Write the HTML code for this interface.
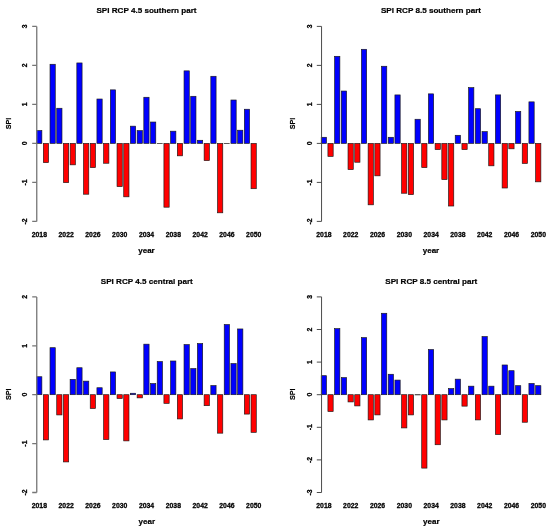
<!DOCTYPE html>
<html><head><meta charset="utf-8"><title>SPI</title>
<style>html,body{margin:0;padding:0;background:#fff}svg{display:block}text{font-family:"Liberation Sans",Arial,sans-serif;font-weight:bold;fill:#000;stroke:#000;stroke-width:0.2px;paint-order:stroke}text.t{stroke-width:0.3px}</style></head><body>
<svg width="550" height="529" viewBox="0 0 550 529">
<rect width="550" height="529" fill="#fff"/>
<g>
<rect x="36.62" y="130.57" width="5.25" height="12.83" fill="#0000ff" stroke="#181818" stroke-width="0.65"/>
<rect x="43.33" y="143.40" width="5.25" height="19.22" fill="#ff0000" stroke="#181818" stroke-width="0.65"/>
<rect x="50.02" y="64.27" width="5.25" height="79.13" fill="#0000ff" stroke="#181818" stroke-width="0.65"/>
<rect x="56.73" y="108.26" width="5.25" height="35.14" fill="#0000ff" stroke="#181818" stroke-width="0.65"/>
<rect x="63.43" y="143.40" width="5.25" height="39.22" fill="#ff0000" stroke="#181818" stroke-width="0.65"/>
<rect x="70.13" y="143.40" width="5.25" height="21.44" fill="#ff0000" stroke="#181818" stroke-width="0.65"/>
<rect x="76.83" y="62.95" width="5.25" height="80.45" fill="#0000ff" stroke="#181818" stroke-width="0.65"/>
<rect x="83.53" y="143.40" width="5.25" height="50.81" fill="#ff0000" stroke="#181818" stroke-width="0.65"/>
<rect x="90.23" y="143.40" width="5.25" height="24.21" fill="#ff0000" stroke="#181818" stroke-width="0.65"/>
<rect x="96.93" y="99.02" width="5.25" height="44.38" fill="#0000ff" stroke="#181818" stroke-width="0.65"/>
<rect x="103.63" y="143.40" width="5.25" height="19.84" fill="#ff0000" stroke="#181818" stroke-width="0.65"/>
<rect x="110.33" y="89.86" width="5.25" height="53.54" fill="#0000ff" stroke="#181818" stroke-width="0.65"/>
<rect x="117.03" y="143.40" width="5.25" height="43.24" fill="#ff0000" stroke="#181818" stroke-width="0.65"/>
<rect x="123.73" y="143.40" width="5.25" height="53.42" fill="#ff0000" stroke="#181818" stroke-width="0.65"/>
<rect x="130.42" y="126.16" width="5.25" height="17.24" fill="#0000ff" stroke="#181818" stroke-width="0.65"/>
<rect x="137.12" y="130.65" width="5.25" height="12.75" fill="#0000ff" stroke="#181818" stroke-width="0.65"/>
<rect x="143.82" y="97.27" width="5.25" height="46.13" fill="#0000ff" stroke="#181818" stroke-width="0.65"/>
<rect x="150.53" y="122.03" width="5.25" height="21.37" fill="#0000ff" stroke="#181818" stroke-width="0.65"/>
<rect x="157.22" y="143.40" width="5.25" height="0.19" fill="#601010" stroke="#181818" stroke-width="0.65"/>
<rect x="163.92" y="143.40" width="5.25" height="63.79" fill="#ff0000" stroke="#181818" stroke-width="0.65"/>
<rect x="170.62" y="131.19" width="5.25" height="12.21" fill="#0000ff" stroke="#181818" stroke-width="0.65"/>
<rect x="177.33" y="143.40" width="5.25" height="12.43" fill="#ff0000" stroke="#181818" stroke-width="0.65"/>
<rect x="184.03" y="70.86" width="5.25" height="72.54" fill="#0000ff" stroke="#181818" stroke-width="0.65"/>
<rect x="190.72" y="96.29" width="5.25" height="47.11" fill="#0000ff" stroke="#181818" stroke-width="0.65"/>
<rect x="197.43" y="140.28" width="5.25" height="3.12" fill="#0000ff" stroke="#181818" stroke-width="0.65"/>
<rect x="204.12" y="143.40" width="5.25" height="17.23" fill="#ff0000" stroke="#181818" stroke-width="0.65"/>
<rect x="210.83" y="76.28" width="5.25" height="67.12" fill="#0000ff" stroke="#181818" stroke-width="0.65"/>
<rect x="217.53" y="143.40" width="5.25" height="69.41" fill="#ff0000" stroke="#181818" stroke-width="0.65"/>
<rect x="224.22" y="143.40" width="5.25" height="0.19" fill="#601010" stroke="#181818" stroke-width="0.65"/>
<rect x="230.93" y="100.00" width="5.25" height="43.41" fill="#0000ff" stroke="#181818" stroke-width="0.65"/>
<rect x="237.62" y="130.22" width="5.25" height="13.18" fill="#0000ff" stroke="#181818" stroke-width="0.65"/>
<rect x="244.33" y="109.24" width="5.25" height="34.16" fill="#0000ff" stroke="#181818" stroke-width="0.65"/>
<rect x="251.03" y="143.40" width="5.25" height="45.31" fill="#ff0000" stroke="#181818" stroke-width="0.65"/>
<path d="M36.75 26.40V221.40" stroke="#767676" stroke-width="1.3" fill="none"/>
<path d="M32.20 221.40H36.75M32.20 182.40H36.75M32.20 143.40H36.75M32.20 104.40H36.75M32.20 65.40H36.75M32.20 26.40H36.75" stroke="#767676" stroke-width="1.3" fill="none"/>
<text transform="translate(27.00 221.40) rotate(-90) scale(0.86 1)" text-anchor="middle" font-size="8.0" class="t">-2</text>
<text transform="translate(27.00 182.40) rotate(-90) scale(0.86 1)" text-anchor="middle" font-size="8.0" class="t">-1</text>
<text transform="translate(27.00 143.40) rotate(-90) scale(0.86 1)" text-anchor="middle" font-size="8.0" class="t">0</text>
<text transform="translate(27.00 104.40) rotate(-90) scale(0.86 1)" text-anchor="middle" font-size="8.0" class="t">1</text>
<text transform="translate(27.00 65.40) rotate(-90) scale(0.86 1)" text-anchor="middle" font-size="8.0" class="t">2</text>
<text transform="translate(27.00 26.40) rotate(-90) scale(0.86 1)" text-anchor="middle" font-size="8.0" class="t">3</text>
<text transform="translate(39.35 236.80) scale(0.86 1)" text-anchor="middle" font-size="8.0" class="t">2018</text>
<text transform="translate(66.15 236.80) scale(0.86 1)" text-anchor="middle" font-size="8.0" class="t">2022</text>
<text transform="translate(92.95 236.80) scale(0.86 1)" text-anchor="middle" font-size="8.0" class="t">2026</text>
<text transform="translate(119.75 236.80) scale(0.86 1)" text-anchor="middle" font-size="8.0" class="t">2030</text>
<text transform="translate(146.55 236.80) scale(0.86 1)" text-anchor="middle" font-size="8.0" class="t">2034</text>
<text transform="translate(173.35 236.80) scale(0.86 1)" text-anchor="middle" font-size="8.0" class="t">2038</text>
<text transform="translate(200.15 236.80) scale(0.86 1)" text-anchor="middle" font-size="8.0" class="t">2042</text>
<text transform="translate(226.95 236.80) scale(0.86 1)" text-anchor="middle" font-size="8.0" class="t">2046</text>
<text transform="translate(253.75 236.80) scale(0.86 1)" text-anchor="middle" font-size="8.0" class="t">2050</text>
<text x="146.50" y="252.80" text-anchor="middle" font-size="8.0">year</text>
<text transform="translate(10.60 123.50) rotate(-90) scale(0.91 1)" text-anchor="middle" font-size="7.9">SPI</text>
<text x="146.50" y="13.20" text-anchor="middle" font-size="8.1">SPI RCP 4.5 southern part</text>
</g>
<g>
<rect x="321.22" y="137.28" width="5.25" height="6.12" fill="#0000ff" stroke="#181818" stroke-width="0.65"/>
<rect x="327.92" y="143.40" width="5.25" height="13.02" fill="#ff0000" stroke="#181818" stroke-width="0.65"/>
<rect x="334.62" y="56.31" width="5.25" height="87.09" fill="#0000ff" stroke="#181818" stroke-width="0.65"/>
<rect x="341.32" y="91.03" width="5.25" height="52.38" fill="#0000ff" stroke="#181818" stroke-width="0.65"/>
<rect x="348.02" y="143.40" width="5.25" height="26.24" fill="#ff0000" stroke="#181818" stroke-width="0.65"/>
<rect x="354.72" y="143.40" width="5.25" height="18.83" fill="#ff0000" stroke="#181818" stroke-width="0.65"/>
<rect x="361.42" y="49.30" width="5.25" height="94.10" fill="#0000ff" stroke="#181818" stroke-width="0.65"/>
<rect x="368.12" y="143.40" width="5.25" height="61.42" fill="#ff0000" stroke="#181818" stroke-width="0.65"/>
<rect x="374.82" y="143.40" width="5.25" height="32.44" fill="#ff0000" stroke="#181818" stroke-width="0.65"/>
<rect x="381.52" y="66.26" width="5.25" height="77.14" fill="#0000ff" stroke="#181818" stroke-width="0.65"/>
<rect x="388.22" y="137.28" width="5.25" height="6.12" fill="#0000ff" stroke="#181818" stroke-width="0.65"/>
<rect x="394.92" y="94.93" width="5.25" height="48.47" fill="#0000ff" stroke="#181818" stroke-width="0.65"/>
<rect x="401.62" y="143.40" width="5.25" height="49.83" fill="#ff0000" stroke="#181818" stroke-width="0.65"/>
<rect x="408.32" y="143.40" width="5.25" height="51.24" fill="#ff0000" stroke="#181818" stroke-width="0.65"/>
<rect x="415.02" y="119.26" width="5.25" height="24.14" fill="#0000ff" stroke="#181818" stroke-width="0.65"/>
<rect x="421.72" y="143.40" width="5.25" height="24.21" fill="#ff0000" stroke="#181818" stroke-width="0.65"/>
<rect x="428.42" y="93.87" width="5.25" height="49.53" fill="#0000ff" stroke="#181818" stroke-width="0.65"/>
<rect x="435.12" y="143.40" width="5.25" height="6.23" fill="#ff0000" stroke="#181818" stroke-width="0.65"/>
<rect x="441.82" y="143.40" width="5.25" height="36.22" fill="#ff0000" stroke="#181818" stroke-width="0.65"/>
<rect x="448.52" y="143.40" width="5.25" height="62.62" fill="#ff0000" stroke="#181818" stroke-width="0.65"/>
<rect x="455.22" y="135.29" width="5.25" height="8.11" fill="#0000ff" stroke="#181818" stroke-width="0.65"/>
<rect x="461.93" y="143.40" width="5.25" height="6.23" fill="#ff0000" stroke="#181818" stroke-width="0.65"/>
<rect x="468.62" y="87.67" width="5.25" height="55.73" fill="#0000ff" stroke="#181818" stroke-width="0.65"/>
<rect x="475.32" y="108.69" width="5.25" height="34.71" fill="#0000ff" stroke="#181818" stroke-width="0.65"/>
<rect x="482.02" y="131.66" width="5.25" height="11.74" fill="#0000ff" stroke="#181818" stroke-width="0.65"/>
<rect x="488.72" y="143.40" width="5.25" height="22.42" fill="#ff0000" stroke="#181818" stroke-width="0.65"/>
<rect x="495.43" y="94.89" width="5.25" height="48.51" fill="#0000ff" stroke="#181818" stroke-width="0.65"/>
<rect x="502.12" y="143.40" width="5.25" height="44.61" fill="#ff0000" stroke="#181818" stroke-width="0.65"/>
<rect x="508.82" y="143.40" width="5.25" height="5.41" fill="#ff0000" stroke="#181818" stroke-width="0.65"/>
<rect x="515.52" y="111.50" width="5.25" height="31.90" fill="#0000ff" stroke="#181818" stroke-width="0.65"/>
<rect x="522.23" y="143.40" width="5.25" height="20.04" fill="#ff0000" stroke="#181818" stroke-width="0.65"/>
<rect x="528.93" y="101.87" width="5.25" height="41.53" fill="#0000ff" stroke="#181818" stroke-width="0.65"/>
<rect x="535.62" y="143.40" width="5.25" height="38.44" fill="#ff0000" stroke="#181818" stroke-width="0.65"/>
<path d="M321.55 26.40V221.40" stroke="#4c4c4c" stroke-width="1.0" fill="none"/>
<path d="M316.80 221.40H321.55M316.80 182.40H321.55M316.80 143.40H321.55M316.80 104.40H321.55M316.80 65.40H321.55M316.80 26.40H321.55" stroke="#4c4c4c" stroke-width="1.0" fill="none"/>
<text transform="translate(311.60 221.40) rotate(-90) scale(0.86 1)" text-anchor="middle" font-size="8.0" class="t">-2</text>
<text transform="translate(311.60 182.40) rotate(-90) scale(0.86 1)" text-anchor="middle" font-size="8.0" class="t">-1</text>
<text transform="translate(311.60 143.40) rotate(-90) scale(0.86 1)" text-anchor="middle" font-size="8.0" class="t">0</text>
<text transform="translate(311.60 104.40) rotate(-90) scale(0.86 1)" text-anchor="middle" font-size="8.0" class="t">1</text>
<text transform="translate(311.60 65.40) rotate(-90) scale(0.86 1)" text-anchor="middle" font-size="8.0" class="t">2</text>
<text transform="translate(311.60 26.40) rotate(-90) scale(0.86 1)" text-anchor="middle" font-size="8.0" class="t">3</text>
<text transform="translate(323.95 236.80) scale(0.86 1)" text-anchor="middle" font-size="8.0" class="t">2018</text>
<text transform="translate(350.75 236.80) scale(0.86 1)" text-anchor="middle" font-size="8.0" class="t">2022</text>
<text transform="translate(377.55 236.80) scale(0.86 1)" text-anchor="middle" font-size="8.0" class="t">2026</text>
<text transform="translate(404.35 236.80) scale(0.86 1)" text-anchor="middle" font-size="8.0" class="t">2030</text>
<text transform="translate(431.15 236.80) scale(0.86 1)" text-anchor="middle" font-size="8.0" class="t">2034</text>
<text transform="translate(457.95 236.80) scale(0.86 1)" text-anchor="middle" font-size="8.0" class="t">2038</text>
<text transform="translate(484.75 236.80) scale(0.86 1)" text-anchor="middle" font-size="8.0" class="t">2042</text>
<text transform="translate(511.55 236.80) scale(0.86 1)" text-anchor="middle" font-size="8.0" class="t">2046</text>
<text transform="translate(538.35 236.80) scale(0.86 1)" text-anchor="middle" font-size="8.0" class="t">2050</text>
<text x="431.00" y="252.80" text-anchor="middle" font-size="8.0">year</text>
<text transform="translate(295.20 123.50) rotate(-90) scale(0.91 1)" text-anchor="middle" font-size="7.9">SPI</text>
<text x="431.00" y="13.20" text-anchor="middle" font-size="8.1">SPI RCP 8.5 southern part</text>
</g>
<g>
<rect x="36.62" y="376.74" width="5.25" height="17.96" fill="#0000ff" stroke="#181818" stroke-width="0.65"/>
<rect x="43.33" y="394.70" width="5.25" height="45.21" fill="#ff0000" stroke="#181818" stroke-width="0.65"/>
<rect x="50.02" y="347.69" width="5.25" height="47.01" fill="#0000ff" stroke="#181818" stroke-width="0.65"/>
<rect x="56.73" y="394.70" width="5.25" height="20.23" fill="#ff0000" stroke="#181818" stroke-width="0.65"/>
<rect x="63.43" y="394.70" width="5.25" height="67.22" fill="#ff0000" stroke="#181818" stroke-width="0.65"/>
<rect x="70.13" y="379.33" width="5.25" height="15.37" fill="#0000ff" stroke="#181818" stroke-width="0.65"/>
<rect x="76.83" y="367.74" width="5.25" height="26.96" fill="#0000ff" stroke="#181818" stroke-width="0.65"/>
<rect x="83.53" y="381.14" width="5.25" height="13.56" fill="#0000ff" stroke="#181818" stroke-width="0.65"/>
<rect x="90.23" y="394.70" width="5.25" height="13.82" fill="#ff0000" stroke="#181818" stroke-width="0.65"/>
<rect x="96.93" y="387.74" width="5.25" height="6.96" fill="#0000ff" stroke="#181818" stroke-width="0.65"/>
<rect x="103.63" y="394.70" width="5.25" height="44.82" fill="#ff0000" stroke="#181818" stroke-width="0.65"/>
<rect x="110.33" y="371.94" width="5.25" height="22.76" fill="#0000ff" stroke="#181818" stroke-width="0.65"/>
<rect x="117.03" y="394.70" width="5.25" height="3.84" fill="#ff0000" stroke="#181818" stroke-width="0.65"/>
<rect x="123.73" y="394.70" width="5.25" height="46.19" fill="#ff0000" stroke="#181818" stroke-width="0.65"/>
<rect x="130.42" y="393.26" width="5.25" height="1.44" fill="#0000ff" stroke="#181818" stroke-width="0.65"/>
<rect x="137.12" y="394.70" width="5.25" height="3.16" fill="#ff0000" stroke="#181818" stroke-width="0.65"/>
<rect x="143.82" y="344.17" width="5.25" height="50.53" fill="#0000ff" stroke="#181818" stroke-width="0.65"/>
<rect x="150.53" y="383.58" width="5.25" height="11.12" fill="#0000ff" stroke="#181818" stroke-width="0.65"/>
<rect x="157.22" y="361.58" width="5.25" height="33.12" fill="#0000ff" stroke="#181818" stroke-width="0.65"/>
<rect x="163.92" y="394.70" width="5.25" height="8.64" fill="#ff0000" stroke="#181818" stroke-width="0.65"/>
<rect x="170.62" y="360.99" width="5.25" height="33.71" fill="#0000ff" stroke="#181818" stroke-width="0.65"/>
<rect x="177.33" y="394.70" width="5.25" height="24.23" fill="#ff0000" stroke="#181818" stroke-width="0.65"/>
<rect x="184.03" y="344.61" width="5.25" height="50.09" fill="#0000ff" stroke="#181818" stroke-width="0.65"/>
<rect x="190.72" y="368.57" width="5.25" height="26.13" fill="#0000ff" stroke="#181818" stroke-width="0.65"/>
<rect x="197.43" y="343.58" width="5.25" height="51.12" fill="#0000ff" stroke="#181818" stroke-width="0.65"/>
<rect x="204.12" y="394.70" width="5.25" height="10.98" fill="#ff0000" stroke="#181818" stroke-width="0.65"/>
<rect x="210.83" y="385.59" width="5.25" height="9.11" fill="#0000ff" stroke="#181818" stroke-width="0.65"/>
<rect x="217.53" y="394.70" width="5.25" height="38.46" fill="#ff0000" stroke="#181818" stroke-width="0.65"/>
<rect x="224.22" y="324.56" width="5.25" height="70.14" fill="#0000ff" stroke="#181818" stroke-width="0.65"/>
<rect x="230.93" y="363.58" width="5.25" height="31.12" fill="#0000ff" stroke="#181818" stroke-width="0.65"/>
<rect x="237.62" y="328.96" width="5.25" height="65.74" fill="#0000ff" stroke="#181818" stroke-width="0.65"/>
<rect x="244.33" y="394.70" width="5.25" height="19.39" fill="#ff0000" stroke="#181818" stroke-width="0.65"/>
<rect x="251.03" y="394.70" width="5.25" height="37.63" fill="#ff0000" stroke="#181818" stroke-width="0.65"/>
<path d="M36.75 296.90V492.50" stroke="#767676" stroke-width="1.3" fill="none"/>
<path d="M32.20 492.50H36.75M32.20 443.60H36.75M32.20 394.70H36.75M32.20 345.80H36.75M32.20 296.90H36.75" stroke="#767676" stroke-width="1.3" fill="none"/>
<text transform="translate(27.00 492.50) rotate(-90) scale(0.86 1)" text-anchor="middle" font-size="8.0" class="t">-2</text>
<text transform="translate(27.00 443.60) rotate(-90) scale(0.86 1)" text-anchor="middle" font-size="8.0" class="t">-1</text>
<text transform="translate(27.00 394.70) rotate(-90) scale(0.86 1)" text-anchor="middle" font-size="8.0" class="t">0</text>
<text transform="translate(27.00 345.80) rotate(-90) scale(0.86 1)" text-anchor="middle" font-size="8.0" class="t">1</text>
<text transform="translate(27.00 296.90) rotate(-90) scale(0.86 1)" text-anchor="middle" font-size="8.0" class="t">2</text>
<text transform="translate(39.35 507.90) scale(0.86 1)" text-anchor="middle" font-size="8.0" class="t">2018</text>
<text transform="translate(66.15 507.90) scale(0.86 1)" text-anchor="middle" font-size="8.0" class="t">2022</text>
<text transform="translate(92.95 507.90) scale(0.86 1)" text-anchor="middle" font-size="8.0" class="t">2026</text>
<text transform="translate(119.75 507.90) scale(0.86 1)" text-anchor="middle" font-size="8.0" class="t">2030</text>
<text transform="translate(146.55 507.90) scale(0.86 1)" text-anchor="middle" font-size="8.0" class="t">2034</text>
<text transform="translate(173.35 507.90) scale(0.86 1)" text-anchor="middle" font-size="8.0" class="t">2038</text>
<text transform="translate(200.15 507.90) scale(0.86 1)" text-anchor="middle" font-size="8.0" class="t">2042</text>
<text transform="translate(226.95 507.90) scale(0.86 1)" text-anchor="middle" font-size="8.0" class="t">2046</text>
<text transform="translate(253.75 507.90) scale(0.86 1)" text-anchor="middle" font-size="8.0" class="t">2050</text>
<text x="146.80" y="523.90" text-anchor="middle" font-size="8.0">year</text>
<text transform="translate(10.60 394.30) rotate(-90) scale(0.91 1)" text-anchor="middle" font-size="7.9">SPI</text>
<text x="146.80" y="283.60" text-anchor="middle" font-size="8.1">SPI RCP 4.5 central part</text>
</g>
<g>
<rect x="321.22" y="375.68" width="5.25" height="19.02" fill="#0000ff" stroke="#181818" stroke-width="0.65"/>
<rect x="327.92" y="394.70" width="5.25" height="16.82" fill="#ff0000" stroke="#181818" stroke-width="0.65"/>
<rect x="334.62" y="328.67" width="5.25" height="66.03" fill="#0000ff" stroke="#181818" stroke-width="0.65"/>
<rect x="341.32" y="377.66" width="5.25" height="17.04" fill="#0000ff" stroke="#181818" stroke-width="0.65"/>
<rect x="348.02" y="394.70" width="5.25" height="7.23" fill="#ff0000" stroke="#181818" stroke-width="0.65"/>
<rect x="354.72" y="394.70" width="5.25" height="11.21" fill="#ff0000" stroke="#181818" stroke-width="0.65"/>
<rect x="361.42" y="337.66" width="5.25" height="57.04" fill="#0000ff" stroke="#181818" stroke-width="0.65"/>
<rect x="368.12" y="394.70" width="5.25" height="25.23" fill="#ff0000" stroke="#181818" stroke-width="0.65"/>
<rect x="374.82" y="394.70" width="5.25" height="20.21" fill="#ff0000" stroke="#181818" stroke-width="0.65"/>
<rect x="381.52" y="313.28" width="5.25" height="81.42" fill="#0000ff" stroke="#181818" stroke-width="0.65"/>
<rect x="388.22" y="374.27" width="5.25" height="20.43" fill="#0000ff" stroke="#181818" stroke-width="0.65"/>
<rect x="394.92" y="380.08" width="5.25" height="14.62" fill="#0000ff" stroke="#181818" stroke-width="0.65"/>
<rect x="401.62" y="394.70" width="5.25" height="33.22" fill="#ff0000" stroke="#181818" stroke-width="0.65"/>
<rect x="408.32" y="394.70" width="5.25" height="20.21" fill="#ff0000" stroke="#181818" stroke-width="0.65"/>
<rect x="415.02" y="394.70" width="5.25" height="0.21" fill="#601010" stroke="#181818" stroke-width="0.65"/>
<rect x="421.72" y="394.70" width="5.25" height="73.41" fill="#ff0000" stroke="#181818" stroke-width="0.65"/>
<rect x="428.42" y="349.56" width="5.25" height="45.14" fill="#0000ff" stroke="#181818" stroke-width="0.65"/>
<rect x="435.12" y="394.70" width="5.25" height="50.04" fill="#ff0000" stroke="#181818" stroke-width="0.65"/>
<rect x="441.82" y="394.70" width="5.25" height="25.23" fill="#ff0000" stroke="#181818" stroke-width="0.65"/>
<rect x="448.52" y="388.59" width="5.25" height="6.11" fill="#0000ff" stroke="#181818" stroke-width="0.65"/>
<rect x="455.22" y="379.16" width="5.25" height="15.54" fill="#0000ff" stroke="#181818" stroke-width="0.65"/>
<rect x="461.93" y="394.70" width="5.25" height="11.44" fill="#ff0000" stroke="#181818" stroke-width="0.65"/>
<rect x="468.62" y="386.17" width="5.25" height="8.53" fill="#0000ff" stroke="#181818" stroke-width="0.65"/>
<rect x="475.32" y="394.70" width="5.25" height="25.23" fill="#ff0000" stroke="#181818" stroke-width="0.65"/>
<rect x="482.02" y="336.59" width="5.25" height="58.11" fill="#0000ff" stroke="#181818" stroke-width="0.65"/>
<rect x="488.72" y="386.17" width="5.25" height="8.53" fill="#0000ff" stroke="#181818" stroke-width="0.65"/>
<rect x="495.43" y="394.70" width="5.25" height="39.83" fill="#ff0000" stroke="#181818" stroke-width="0.65"/>
<rect x="502.12" y="364.98" width="5.25" height="29.72" fill="#0000ff" stroke="#181818" stroke-width="0.65"/>
<rect x="508.82" y="370.69" width="5.25" height="24.01" fill="#0000ff" stroke="#181818" stroke-width="0.65"/>
<rect x="515.52" y="385.68" width="5.25" height="9.02" fill="#0000ff" stroke="#181818" stroke-width="0.65"/>
<rect x="522.23" y="394.70" width="5.25" height="27.54" fill="#ff0000" stroke="#181818" stroke-width="0.65"/>
<rect x="528.93" y="383.47" width="5.25" height="11.23" fill="#0000ff" stroke="#181818" stroke-width="0.65"/>
<rect x="535.62" y="385.68" width="5.25" height="9.02" fill="#0000ff" stroke="#181818" stroke-width="0.65"/>
<path d="M321.55 296.90V492.50" stroke="#4c4c4c" stroke-width="1.0" fill="none"/>
<path d="M316.80 492.50H321.55M316.80 459.90H321.55M316.80 427.30H321.55M316.80 394.70H321.55M316.80 362.10H321.55M316.80 329.50H321.55M316.80 296.90H321.55" stroke="#4c4c4c" stroke-width="1.0" fill="none"/>
<text transform="translate(311.60 492.50) rotate(-90) scale(0.86 1)" text-anchor="middle" font-size="8.0" class="t">-3</text>
<text transform="translate(311.60 459.90) rotate(-90) scale(0.86 1)" text-anchor="middle" font-size="8.0" class="t">-2</text>
<text transform="translate(311.60 427.30) rotate(-90) scale(0.86 1)" text-anchor="middle" font-size="8.0" class="t">-1</text>
<text transform="translate(311.60 394.70) rotate(-90) scale(0.86 1)" text-anchor="middle" font-size="8.0" class="t">0</text>
<text transform="translate(311.60 362.10) rotate(-90) scale(0.86 1)" text-anchor="middle" font-size="8.0" class="t">1</text>
<text transform="translate(311.60 329.50) rotate(-90) scale(0.86 1)" text-anchor="middle" font-size="8.0" class="t">2</text>
<text transform="translate(311.60 296.90) rotate(-90) scale(0.86 1)" text-anchor="middle" font-size="8.0" class="t">3</text>
<text transform="translate(323.95 507.90) scale(0.86 1)" text-anchor="middle" font-size="8.0" class="t">2018</text>
<text transform="translate(350.75 507.90) scale(0.86 1)" text-anchor="middle" font-size="8.0" class="t">2022</text>
<text transform="translate(377.55 507.90) scale(0.86 1)" text-anchor="middle" font-size="8.0" class="t">2026</text>
<text transform="translate(404.35 507.90) scale(0.86 1)" text-anchor="middle" font-size="8.0" class="t">2030</text>
<text transform="translate(431.15 507.90) scale(0.86 1)" text-anchor="middle" font-size="8.0" class="t">2034</text>
<text transform="translate(457.95 507.90) scale(0.86 1)" text-anchor="middle" font-size="8.0" class="t">2038</text>
<text transform="translate(484.75 507.90) scale(0.86 1)" text-anchor="middle" font-size="8.0" class="t">2042</text>
<text transform="translate(511.55 507.90) scale(0.86 1)" text-anchor="middle" font-size="8.0" class="t">2046</text>
<text transform="translate(538.35 507.90) scale(0.86 1)" text-anchor="middle" font-size="8.0" class="t">2050</text>
<text x="431.30" y="523.90" text-anchor="middle" font-size="8.0">year</text>
<text transform="translate(295.20 394.30) rotate(-90) scale(0.91 1)" text-anchor="middle" font-size="7.9">SPI</text>
<text x="431.30" y="283.60" text-anchor="middle" font-size="8.1">SPI RCP 8.5 central part</text>
</g>
</svg></body></html>
